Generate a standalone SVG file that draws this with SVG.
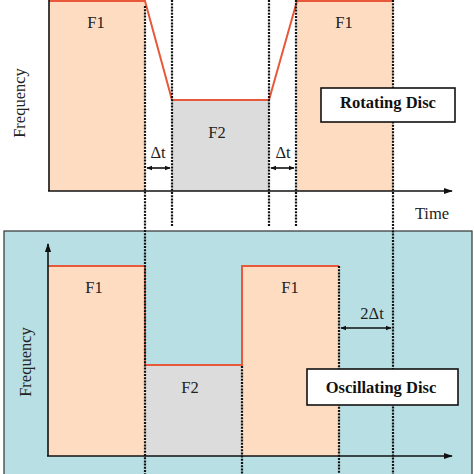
<svg xmlns="http://www.w3.org/2000/svg" width="474" height="474" viewBox="0 0 474 474">
<defs>
<marker id="ah" viewBox="0 0 10 10" refX="9" refY="5" markerWidth="6" markerHeight="6" orient="auto-start-reverse" markerUnits="userSpaceOnUse"><path d="M0,1 L10,5 L0,9 z" fill="#111"/></marker>
<marker id="axh" viewBox="0 0 10 10" refX="9" refY="5" markerWidth="9" markerHeight="9" orient="auto" markerUnits="userSpaceOnUse"><path d="M0,1.5 L10,5 L0,8.5 z" fill="#111"/></marker>
</defs>
<style>
.f1{fill:#fddcc2}
.f2{fill:#dcdcdc}
.red{fill:none;stroke:#e8583a;stroke-width:2}
.ax{fill:none;stroke:#111;stroke-width:1.6}
.dot{fill:none;stroke:#111;stroke-width:2.2;stroke-dasharray:2 1.2}
.t{font-family:"Liberation Serif",serif;fill:#222;font-size:16.5px;text-anchor:middle}
.b{font-family:"Liberation Serif",serif;fill:#111;font-size:16.5px;font-weight:bold;text-anchor:middle}
.box{fill:#fff;stroke:#111;stroke-width:1.6}
</style>
<rect x="0" y="0" width="474" height="474" fill="#fff"/>
<rect x="4" y="231" width="468" height="246" fill="#b8dfe3" stroke="#333" stroke-width="1.2"/>

<g id="top-chart">
<rect class="f1" x="49" y="1" width="96" height="190"/>
<polygon fill="#fff" points="145,1 172,100 172,191 145,191"/>
<rect class="f2" x="172" y="100" width="97" height="91"/>
<rect class="f1" x="297" y="1" width="96" height="190"/>
<polyline class="red" points="49,1 145,1 172,100 269,100 297,1 393,1"/>
<text class="t" x="96" y="28">F1</text>
<text class="t" x="217" y="138">F2</text>
<text class="t" x="344" y="28">F1</text>
<text class="t" x="0" y="0" transform="translate(25,103) rotate(-90)">Frequency</text>
<text class="t" x="432" y="219">Time</text>
</g>

<g id="bottom-chart">
<rect class="f1" x="48" y="266" width="97" height="190"/>
<rect class="f2" x="145" y="365" width="97" height="91"/>
<rect class="f1" x="242" y="266" width="97" height="190"/>
<polyline class="red" points="48,266 145,266 145,365 242,365 242,266 339,266"/>
<text class="t" x="94" y="293">F1</text>
<text class="t" x="190" y="393">F2</text>
<text class="t" x="290" y="293">F1</text>
<text class="t" x="0" y="0" transform="translate(31,362) rotate(-90)">Frequency</text>
</g>

<g id="connectors">
<line class="ax" x1="49" y1="0" x2="49" y2="191"/>
<line class="ax" x1="48" y1="191" x2="452" y2="191" marker-end="url(#axh)"/>
<line class="ax" x1="48" y1="456" x2="48" y2="244" marker-end="url(#axh)"/>
<line class="ax" x1="47" y1="456" x2="452" y2="456" marker-end="url(#axh)"/>
<line class="dot" x1="145" y1="6" x2="145" y2="474"/>
<line class="dot" x1="172" y1="0" x2="172" y2="227"/>
<line class="dot" x1="269" y1="0" x2="269" y2="227"/>
<line class="dot" x1="296" y1="0" x2="296" y2="227"/>
<line class="dot" x1="393" y1="0" x2="393" y2="474"/>
<line class="dot" x1="242" y1="366" x2="242" y2="474"/>
<line class="dot" x1="339" y1="266" x2="339" y2="474"/>
<line class="ax" x1="147" y1="168" x2="170" y2="168" marker-start="url(#ah)" marker-end="url(#ah)"/>
<line class="ax" x1="271" y1="168" x2="294" y2="168" marker-start="url(#ah)" marker-end="url(#ah)"/>
<line class="ax" x1="341" y1="328" x2="391" y2="328" marker-start="url(#ah)" marker-end="url(#ah)"/>
<text class="t" x="158" y="158">Δt</text>
<text class="t" x="283" y="158">Δt</text>
<text class="t" x="372" y="319">2Δt</text>
</g>

<g id="rotating-disc">
<rect class="box" x="321" y="88" width="134" height="34"/>
<text class="b" x="388" y="108">Rotating Disc</text>
</g>

<g id="oscillating-disc">
<rect class="box" x="307" y="369" width="151" height="36"/>
<text class="b" x="381" y="393">Oscillating Disc</text>
</g>
</svg>
